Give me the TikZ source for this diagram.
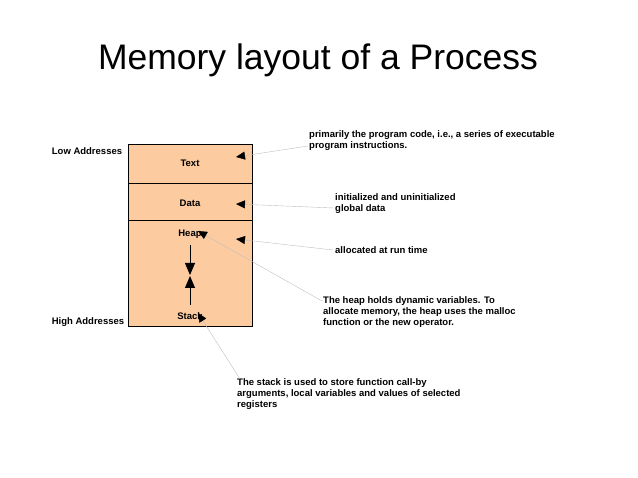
\documentclass[tikz,border=0pt]{standalone}
\usepackage{fontspec}
\setmainfont{Liberation Sans}
\usetikzlibrary{arrows.meta}
\definecolor{segfill}{RGB}{252,204,160}
\definecolor{leader}{RGB}{190,190,190}
\tikzset{
  seg/.style={draw, fill=segfill, thick},
  lbl/.style={font=\bfseries\fontsize{9.5}{11}\selectfont},
  note/.style={font=\bfseries\fontsize{9.5}{11}\selectfont, align=left, anchor=north west, inner sep=0pt},
  tip/.style={-{Triangle[length=9pt,width=8pt,color=black]}},
}
\begin{document}
\begin{tikzpicture}[x=1pt, y=-1pt]
	\useasboundingbox (0,0) rectangle (638,478);

	% Titel
	\node (title) at (318,60) {\fontsize{35.5}{40}\selectfont Memory layout of a Process};

	% Speicherblock
	\draw[seg] (128,144) rectangle (252,183);
	\draw[seg] (128,183) rectangle (252,220);
	\draw[seg] (128,220) rectangle (252,326);
	\node[lbl] (text) at (190,163) {Text};
	\node[lbl] (data) at (190,203) {Data};
	\node[lbl] (heap) at (190,234) {Heap};
	\node[lbl] (stack) at (190,316) {Stack};

	\node[lbl] (low) at (87,151) {Low Addresses};
	\node[lbl] (high) at (88,322) {High Addresses};

	% Pfeile im Block
	\coordinate (h1) at (190,245);
	\coordinate (h2) at (190,275);
	\coordinate (s1) at (190,305);
	\coordinate (s2) at (190,276);
	\draw[thick, -{Triangle[length=12pt,width=10pt]}] (h1) -- (h2);
	\draw[thick, -{Triangle[length=12pt,width=10pt]}] (s1) -- (s2);

	% Erklaerungen
	\node[note] (ntext) at (309,130) {primarily the program code, i.e., a series of executable\\program instructions.};
	\node[note] (ndata) at (335,193) {initialized and uninitialized\\global data};
	\node[note] (nheap) at (335,246) {allocated at run time};
	\node[note] (nheapvar) at (323,296) {The heap holds dynamic variables. To\\allocate memory, the heap uses the malloc\\function or the new operator.};
	\node[note] (nstack) at (237,378) {The stack is used to store function call-by\\arguments, local variables and values of selected\\registers};

	% Hinweislinien
	\coordinate (t1) at (236,157);
	\coordinate (t2) at (236,204);
	\coordinate (t3) at (236,239);
	\coordinate (t4) at (198,231);
	\coordinate (t5) at (198,313);
	\draw[leader, tip] (308,146) -- (t1);
	\draw[leader, tip] (334,208) -- (t2);
	\draw[leader, tip] (333,250) -- (t3);
	\draw[leader, tip] (322,301) -- (t4);
	\draw[leader, tip] (240,379) -- (t5);
\end{tikzpicture}
\end{document}
